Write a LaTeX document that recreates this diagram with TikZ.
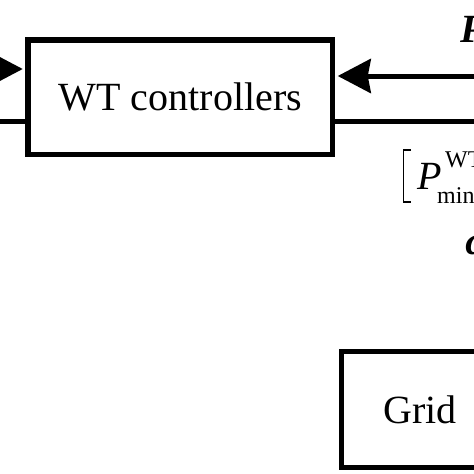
\documentclass[tikz,border=0pt]{standalone}
\usepackage{fontspec}
\setmainfont{Liberation Serif}
\usetikzlibrary{arrows.meta}
\begin{document}
\begin{tikzpicture}[x=1pt,y=-1pt,
  blk/.style={draw,line width=5.5pt,inner sep=0pt,font=\fontsize{40}{48}\selectfont},
  conn/.style={line width=5pt},
  arr/.style={conn,-{Stealth[length=33pt,width=34pt,inset=3pt]},shorten >=2.5pt},
  lbl/.style={inner sep=0pt,anchor=base west,font=\fontsize{40}{48}\selectfont},
  sub/.style={inner sep=0pt,anchor=base west,font=\fontsize{24}{28}\selectfont}]
\useasboundingbox (0,0) rectangle (474,474);
\node[blk,minimum width=304.5pt,minimum height=114.5pt] (wt) at (180.25,97.25) {WT controllers};
\node[blk,minimum width=157pt,minimum height=116pt] (grid) at (420,409.5) {Grid};
% connectors
\coordinate (l1) at (-20,69);
\coordinate (l2) at (-10,121);
\coordinate (r1) at (490,76);
\coordinate (r2) at (490,121);
\draw[arr] (l1) -- (l1 -| wt.west);
\draw[conn] (l2) -- (l2 -| wt.west);
\draw[arr] (r1) -- (r1 -| wt.east);
\draw[conn] (r2 -| wt.east) -- (r2);
% labels
\node[lbl] (ptop) at (460,42) {\textbf{\textit{P}}};
\draw[line width=1.3pt] (411,150) -- (403.5,150) -- (403.5,202) -- (411,202);
\node[lbl] (pmin) at (417,189) {\textit{P}};
\node[sub] (wtsup) at (445,167) {WT};
\node[sub] (minsub) at (437,203) {min};
\node[lbl] (om) at (465,254) {\textbf{\textit{ω}}};
\end{tikzpicture}
\end{document}
